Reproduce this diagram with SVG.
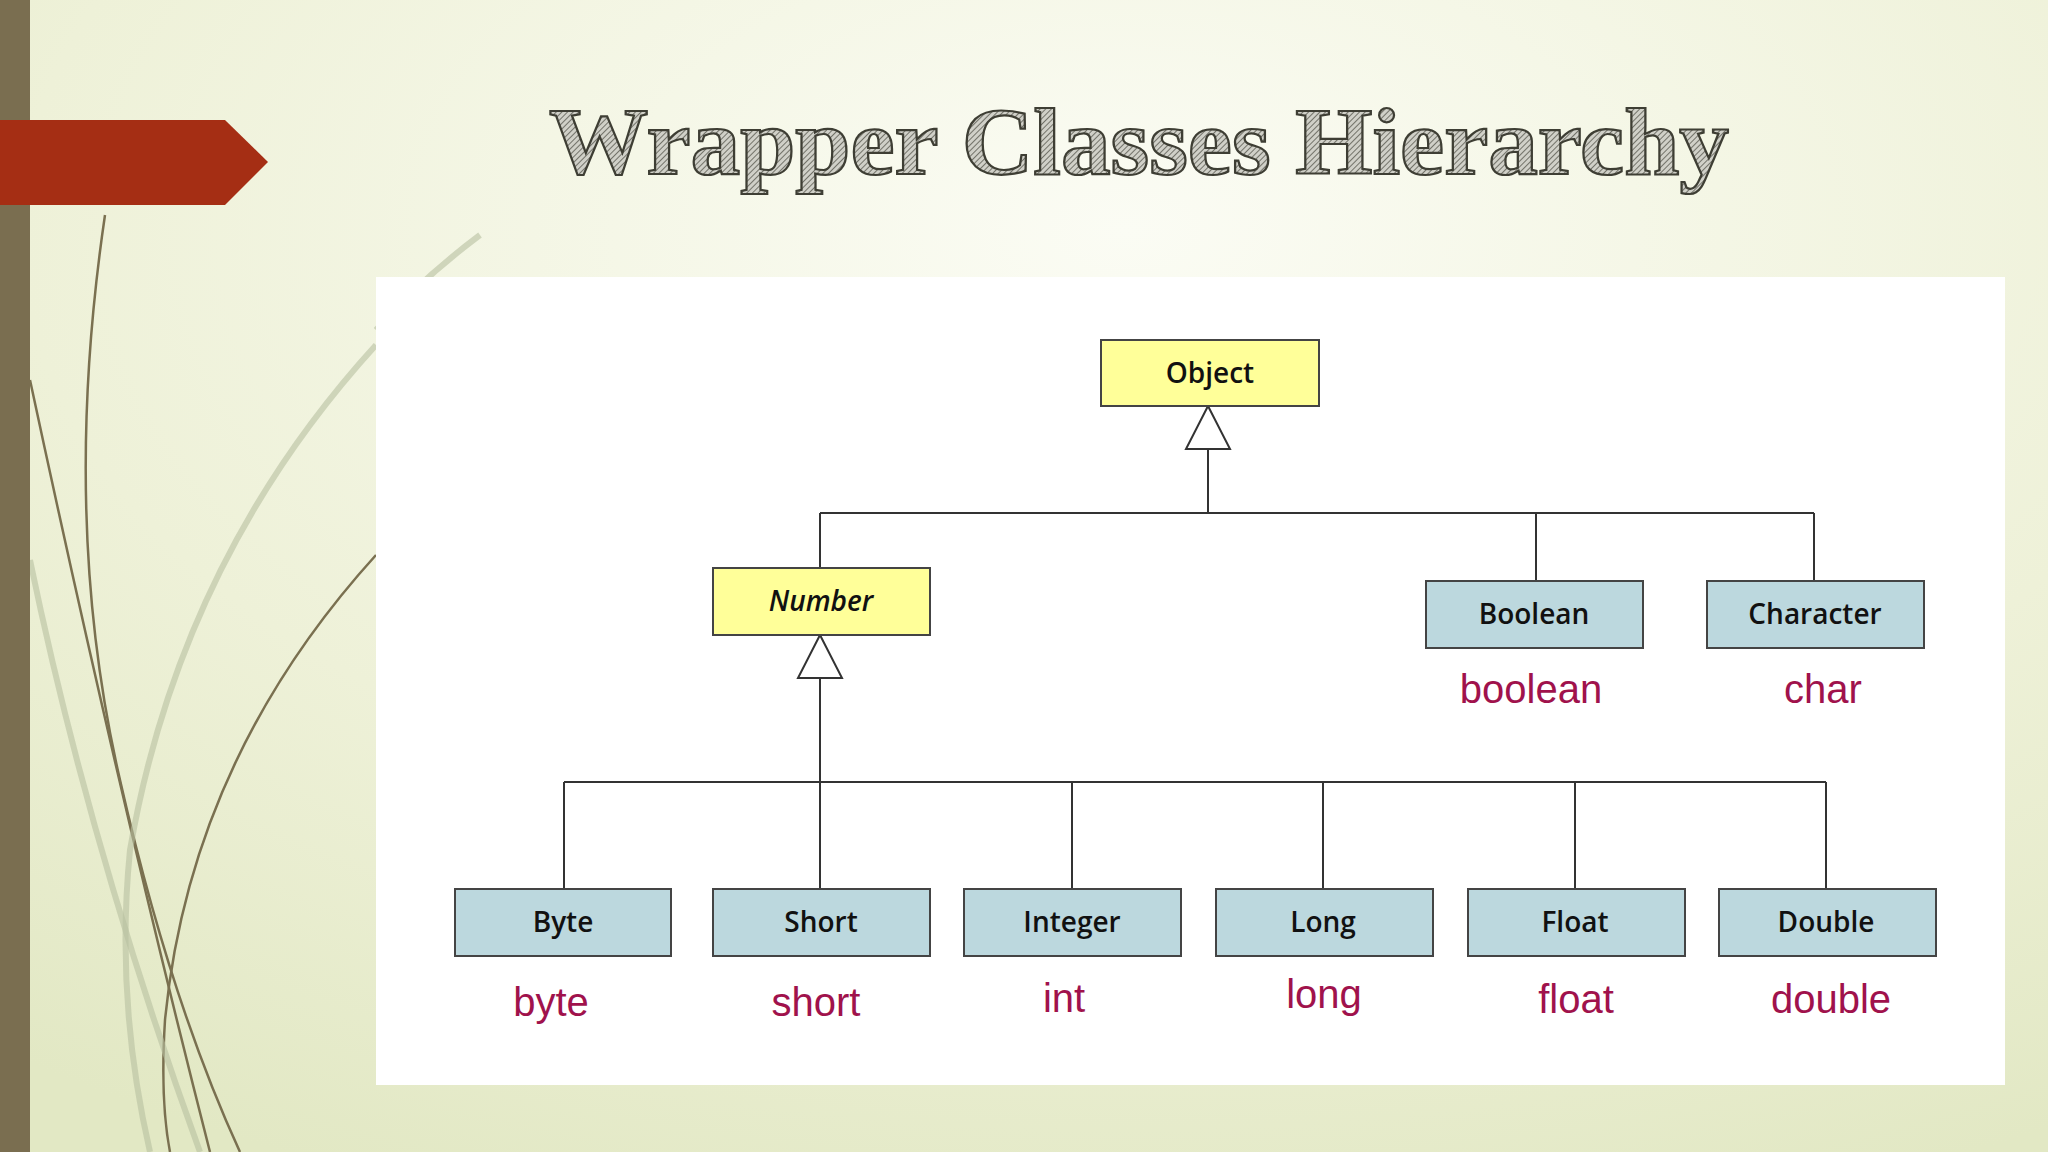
<svg xmlns="http://www.w3.org/2000/svg" width="2048" height="1152" viewBox="0 0 2048 1152">
<defs>
<radialGradient id="bg" cx="0.55" cy="0.2" r="0.9">
<stop offset="0" stop-color="#fbfcf4"/><stop offset="0.6" stop-color="#eef1d8"/><stop offset="1" stop-color="#e2e8c4"/>
</radialGradient>
<pattern id="hatch" width="4" height="4" patternUnits="userSpaceOnUse" patternTransform="rotate(45)">
<rect width="4" height="4" fill="#d0d0c8"/><line x1="0" y1="0" x2="0" y2="4" stroke="#5a5a50" stroke-width="1.6"/>
</pattern>
<style>
.box{stroke:#444;stroke-width:2}
.y{fill:#ffff99}
.b{fill:#bcd8de}
.t{font-family:"Open Sans","Liberation Sans",sans-serif;font-weight:600;font-size:28px;fill:#111;text-anchor:middle}
.p{font-family:"Liberation Sans",sans-serif;font-size:40px;fill:#a0124c;text-anchor:middle}
.c{stroke:#333;stroke-width:2;fill:none}
.tri{fill:#fff;stroke:#333;stroke-width:2}
.deco{fill:none;stroke:#7a7050;stroke-width:2.5}
.deco2{fill:none;stroke:#b8c0a0;stroke-width:6;opacity:0.6}
</style>
</defs>
<rect width="2048" height="1152" fill="url(#bg)"/>
<g id="decor">
<path class="deco" d="M105 215 Q60 520 120 780 Q170 1000 240 1152"/>
<path class="deco" d="M30 380 Q120 800 210 1152"/>
<path class="deco" d="M376 555 Q190 760 165 1020 Q160 1100 170 1152"/>
<path class="deco2" d="M376 345 Q180 560 130 850 Q115 1000 150 1152"/>
<path class="deco2" d="M30 560 Q90 850 200 1152"/>
<path class="deco2" d="M480 235 Q420 280 376 330"/>
<rect x="0" y="0" width="30" height="1152" fill="#7a6e50"/>
<path d="M0 120 H225 L268 162 L225 205 H0 Z" fill="#a52e14"/>
</g>
<text x="1139" y="174" font-family="Liberation Serif,serif" font-weight="bold" font-size="96" text-anchor="middle" textLength="1180" lengthAdjust="spacingAndGlyphs" fill="url(#hatch)" stroke="#3e3e34" stroke-width="2.2">Wrapper Classes Hierarchy</text>
<rect x="376" y="277" width="1629" height="808" fill="#fff"/>
<g id="connectors">
<path class="c" d="M1208 449 V513 M820 513 H1814 M820 513 V568 M1536 513 V581 M1814 513 V581"/>
<path class="c" d="M820 678 V782 M564 782 H1826 M564 782 V889 M820 782 V889 M1072 782 V889 M1323 782 V889 M1575 782 V889 M1826 782 V889"/>
<polygon class="tri" points="1208,406 1186,449 1230,449"/>
<polygon class="tri" points="820,635 798,678 842,678"/>
</g>
<g id="object"><rect class="box y" x="1101" y="340" width="218" height="66"/><text class="t" x="1210" y="383">Object</text></g>
<g id="number"><rect class="box y" x="713" y="568" width="217" height="67"/><text class="t" x="821" y="611" font-style="italic">Number</text></g>
<g id="boolean"><rect class="box b" x="1426" y="581" width="217" height="67"/><text class="t" x="1534" y="624">Boolean</text><text class="p" x="1531" y="703">boolean</text></g>
<g id="character"><rect class="box b" x="1707" y="581" width="217" height="67"/><text class="t" x="1815" y="624">Character</text><text class="p" x="1823" y="703">char</text></g>
<g id="byte"><rect class="box b" x="455" y="889" width="216" height="67"/><text class="t" x="563" y="932">Byte</text><text class="p" x="551" y="1016">byte</text></g>
<g id="short"><rect class="box b" x="713" y="889" width="217" height="67"/><text class="t" x="821" y="932">Short</text><text class="p" x="816" y="1016">short</text></g>
<g id="integer"><rect class="box b" x="964" y="889" width="217" height="67"/><text class="t" x="1072" y="932">Integer</text><text class="p" x="1064" y="1012">int</text></g>
<g id="long"><rect class="box b" x="1216" y="889" width="217" height="67"/><text class="t" x="1323" y="932">Long</text><text class="p" x="1324" y="1008">long</text></g>
<g id="float"><rect class="box b" x="1468" y="889" width="217" height="67"/><text class="t" x="1575" y="932">Float</text><text class="p" x="1576" y="1013">float</text></g>
<g id="double"><rect class="box b" x="1719" y="889" width="217" height="67"/><text class="t" x="1826" y="932">Double</text><text class="p" x="1831" y="1013">double</text></g>
</svg>
